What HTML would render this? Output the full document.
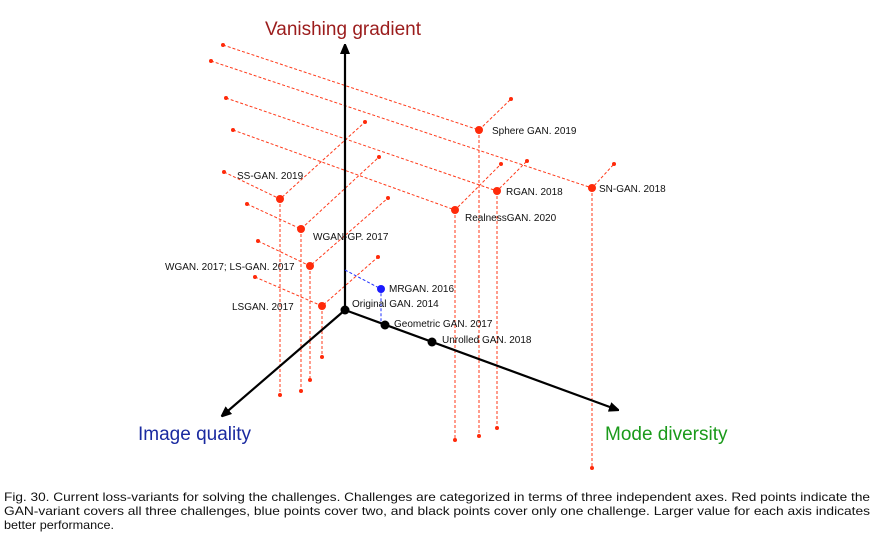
<!DOCTYPE html>
<html><head><meta charset="utf-8"><style>
html,body{margin:0;padding:0;background:#fff;}
svg{display:block;font-family:"Liberation Sans",Arial,sans-serif;}
</style></head><body>
<svg width="876" height="542" viewBox="0 0 876 542" xmlns="http://www.w3.org/2000/svg">
<defs>
<marker id="ar" markerWidth="10" markerHeight="10" refX="9" refY="5" orient="auto" markerUnits="userSpaceOnUse"><path d="M0,0 L12,5 L0,10 z" fill="#000"/></marker>
</defs>
<g stroke="#ff3a1a" stroke-width="1" stroke-dasharray="3,2" fill="none">
<!-- SS-GAN -->
<path d="M224,172 L280,199 L365,122 M280,199 L280,395"/>
<path d="M247,204 L301,229 L379,157 M301,229 L301,391"/>
<path d="M258,241 L310,266 L388,198 M310,266 L310,380"/>
<path d="M255,277 L322,306 L378,257 M322,306 L322,357"/>
<path d="M223,45 L479,130 L511,99 M479,130 L479,436"/>
<path d="M226,98 L497,191 L527,161 M497,191 L497,428"/>
<path d="M233,130 L455,210 L501,164 M455,210 L455,440"/>
<path d="M211,61 L592,188 L614,164 M592,188 L592,468"/>
</g>
<g fill="#ff2a0a">
<circle cx="224" cy="172" r="2"/><circle cx="365" cy="122" r="2"/><circle cx="280" cy="395" r="2"/>
<circle cx="247" cy="204" r="2"/><circle cx="379" cy="157" r="2"/><circle cx="301" cy="391" r="2"/>
<circle cx="258" cy="241" r="2"/><circle cx="388" cy="198" r="2"/><circle cx="310" cy="380" r="2"/>
<circle cx="255" cy="277" r="2"/><circle cx="378" cy="257" r="2"/><circle cx="322" cy="357" r="2"/>
<circle cx="223" cy="45" r="2"/><circle cx="511" cy="99" r="2"/><circle cx="479" cy="436" r="2"/>
<circle cx="226" cy="98" r="2"/><circle cx="527" cy="161" r="2"/><circle cx="497" cy="428" r="2"/>
<circle cx="233" cy="130" r="2"/><circle cx="501" cy="164" r="2"/><circle cx="455" cy="440" r="2"/>
<circle cx="211" cy="61" r="2"/><circle cx="614" cy="164" r="2"/><circle cx="592" cy="468" r="2"/>
<circle cx="280" cy="199" r="4"/><circle cx="301" cy="229" r="4"/><circle cx="310" cy="266" r="4"/><circle cx="322" cy="306" r="4"/>
<circle cx="479" cy="130" r="4"/><circle cx="497" cy="191" r="4"/><circle cx="455" cy="210" r="4"/><circle cx="592" cy="188" r="4"/>
</g>
<g stroke="#000" stroke-width="2.2" fill="none">
<line x1="345" y1="310" x2="345" y2="45" marker-end="url(#ar)"/>
<line x1="345" y1="310" x2="222" y2="416" marker-end="url(#ar)"/>
<line x1="345" y1="310" x2="618" y2="410" marker-end="url(#ar)"/>
</g>
<path d="M345,270 L381,289 L381,323" stroke="#2233ff" stroke-width="1" stroke-dasharray="3,2" fill="none"/>
<circle cx="381" cy="289" r="4" fill="#1a1aff"/>
<g fill="#000"><circle cx="345" cy="310" r="4.5"/><circle cx="385" cy="325" r="4.5"/><circle cx="432" cy="342" r="4.5"/></g>
<g font-size="10" fill="#111">
<text x="237" y="179">SS-GAN. 2019</text>
<text x="313" y="240">WGAN-GP. 2017</text>
<text x="165" y="270">WGAN. 2017; LS-GAN. 2017</text>
<text x="232" y="310">LSGAN. 2017</text>
<text x="352" y="307">Original GAN. 2014</text>
<text x="389" y="292">MRGAN. 2016</text>
<text x="394" y="327">Geometric GAN. 2017</text>
<text x="442" y="343">Unrolled GAN. 2018</text>
<text x="492" y="134">Sphere GAN. 2019</text>
<text x="506" y="195">RGAN. 2018</text>
<text x="465" y="221">RealnessGAN. 2020</text>
<text x="599" y="192">SN-GAN. 2018</text>
</g>
<text x="265" y="35" font-size="19" fill="#9b1c1c">Vanishing gradient</text>
<text x="138" y="440" font-size="19" fill="#1a2aa0">Image quality</text>
<text x="605" y="440" font-size="19" fill="#1a9a1a">Mode diversity</text>
<g font-size="12" fill="#111">
<text x="4" y="501" textLength="866" lengthAdjust="spacingAndGlyphs">Fig. 30. Current loss-variants for solving the challenges. Challenges are categorized in terms of three independent axes. Red points indicate the</text>
<text x="4" y="515" textLength="866" lengthAdjust="spacingAndGlyphs">GAN-variant covers all three challenges, blue points cover two, and black points cover only one challenge. Larger value for each axis indicates</text>
<text x="4" y="529" textLength="110" lengthAdjust="spacingAndGlyphs">better performance.</text>
</g>
</svg>
</body></html>
